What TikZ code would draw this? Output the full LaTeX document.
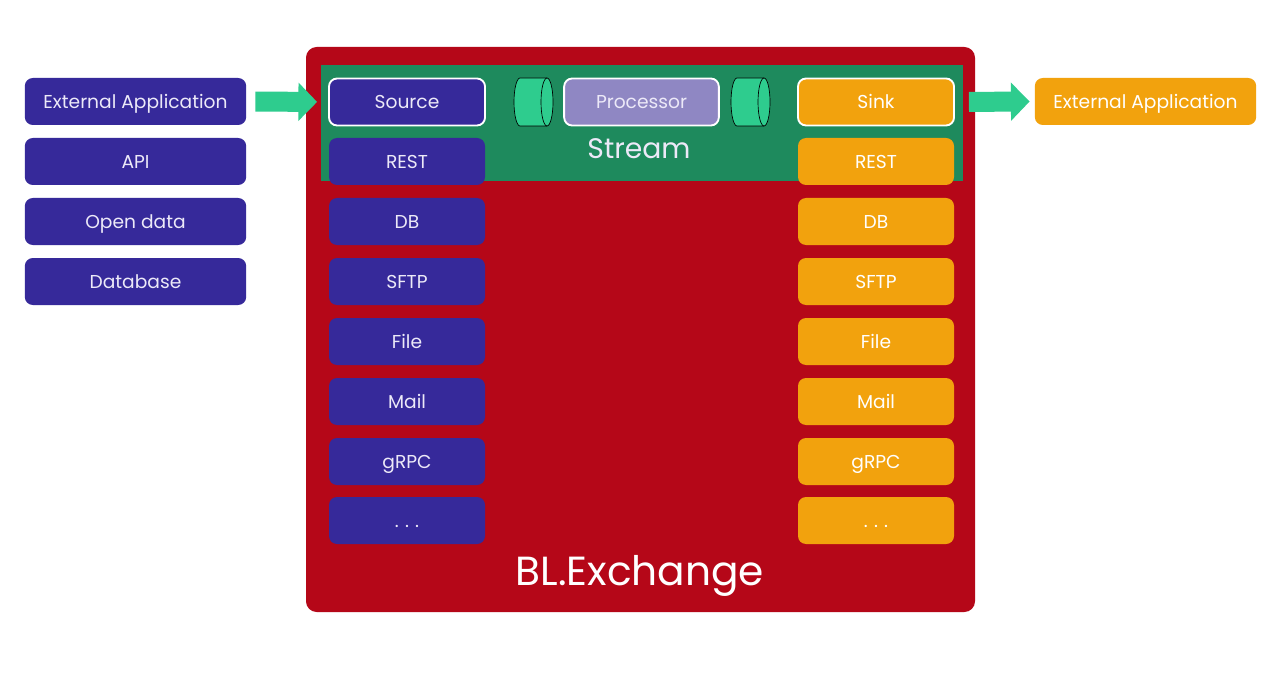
\documentclass[tikz,border=0pt]{standalone}
\usepackage{fontspec}
\setmainfont{Poppins}
\usetikzlibrary{arrows.meta}
\definecolor{bred}{HTML}{B50718}
\definecolor{sgreen}{HTML}{1E8A5D}
\definecolor{dblue}{HTML}{36299A}
\definecolor{orng}{HTML}{F2A20D}
\definecolor{lav}{HTML}{8F87C3}
\definecolor{agreen}{HTML}{2ECC8E}
\definecolor{ltxt}{HTML}{ECE9F8}
\tikzset{
  box/.style={rounded corners=6pt, minimum width=117pt, minimum height=35.25pt, inner sep=0pt, font=\fontsize{14}{16}\selectfont, text=ltxt, text height=9.8pt, text depth=0pt},
  bluebox/.style={box, fill=dblue},
  orbox/.style={box, fill=orng, text=white},
  extbox/.style={box, minimum width=166pt},
  outl/.style={draw=white, line width=1.4pt},
  flow/.style={draw=agreen, line width=15pt, -{Triangle[length=14pt,width=28pt]}},
  cyl/.style={fill=agreen, draw=black, line width=0.5pt},
  big/.style={inner sep=0pt, text depth=0pt},
}
\begin{document}
\begin{tikzpicture}[x=0.75pt,y=-0.75pt]
\useasboundingbox (0,0) rectangle (1280,677);
\fill[white] (0,0) rectangle (1280,677);
% main container
\node[fill=bred, rounded corners=8pt, minimum width=501.75pt, minimum height=423.75pt, inner sep=0pt] (bl) at (640.5,329.5) {};
\node[big, text height=21.4pt, font=\fontsize{30.5}{36}\selectfont, text=white] (bltxt) at (640,571) {BL.Exchange};
% stream
\node[fill=sgreen, minimum width=481.5pt, minimum height=87pt, inner sep=0pt] (stream) at (642,123) {};
\node[big, text height=14.8pt, font=\fontsize{21.2}{25}\selectfont, text=ltxt] (streamtxt) at (639,149) {Stream};
% left column
\node[bluebox, outl] (source) at (407,102) {Source};
\node[bluebox] (lrest) at (407,161.5) {REST};
\node[bluebox] (ldb) at (407,221.5) {DB};
\node[bluebox] (lsftp) at (407,281.5) {SFTP};
\node[bluebox] (lfile) at (407,341.5) {File};
\node[bluebox] (lmail) at (407,401.5) {Mail};
\node[bluebox] (lgrpc) at (407,461.5) {gRPC};
\node[bluebox] (ldots) at (407,520.5) {.\,\,.\,\,.};
% right column
\node[orbox, outl] (sink) at (876,102) {Sink};
\node[orbox] (rrest) at (876,161.5) {REST};
\node[orbox] (rdb) at (876,221.5) {DB};
\node[orbox] (rsftp) at (876,281.5) {SFTP};
\node[orbox] (rfile) at (876,341.5) {File};
\node[orbox] (rmail) at (876,401.5) {Mail};
\node[orbox] (rgrpc) at (876,461.5) {gRPC};
\node[orbox] (rdots) at (876,520.5) {.\,\,.\,\,.};
% processor
\node[box, fill=lav, outl, minimum width=116pt] (proc) at (641.5,102) {Processor};
% cylinders
\foreach \a/\b in {520/547, 737/764}{
  \path[cyl] (\a,78) -- (\b,78) arc[start angle=-90, end angle=90, x radius=6, y radius=24]
     -- (\a,126) arc[start angle=90, end angle=270, x radius=6, y radius=24] -- cycle;
  \draw[black, line width=0.5pt] (\b,78) arc[start angle=-90, end angle=-270, x radius=6, y radius=24];
}
% outside boxes
\node[extbox, fill=dblue] (extl) at (135.5,101.5) {External Application};
\node[extbox, fill=dblue] (api) at (135.5,161.5) {API};
\node[extbox, fill=dblue] (open) at (135.5,221.5) {Open data};
\node[extbox, fill=dblue] (dbase) at (135.5,281.5) {Database};
\node[extbox, fill=orng, text=white] (extr) at (1145.5,101.5) {External Application};
% arrows
\draw[flow, shorten <=6.75pt, shorten >=8.25pt] (extl.east) -- (source.west);
\draw[flow, shorten <=10.5pt, shorten >=3.75pt] (sink.east) -- (extr.west);
\end{tikzpicture}
\end{document}
